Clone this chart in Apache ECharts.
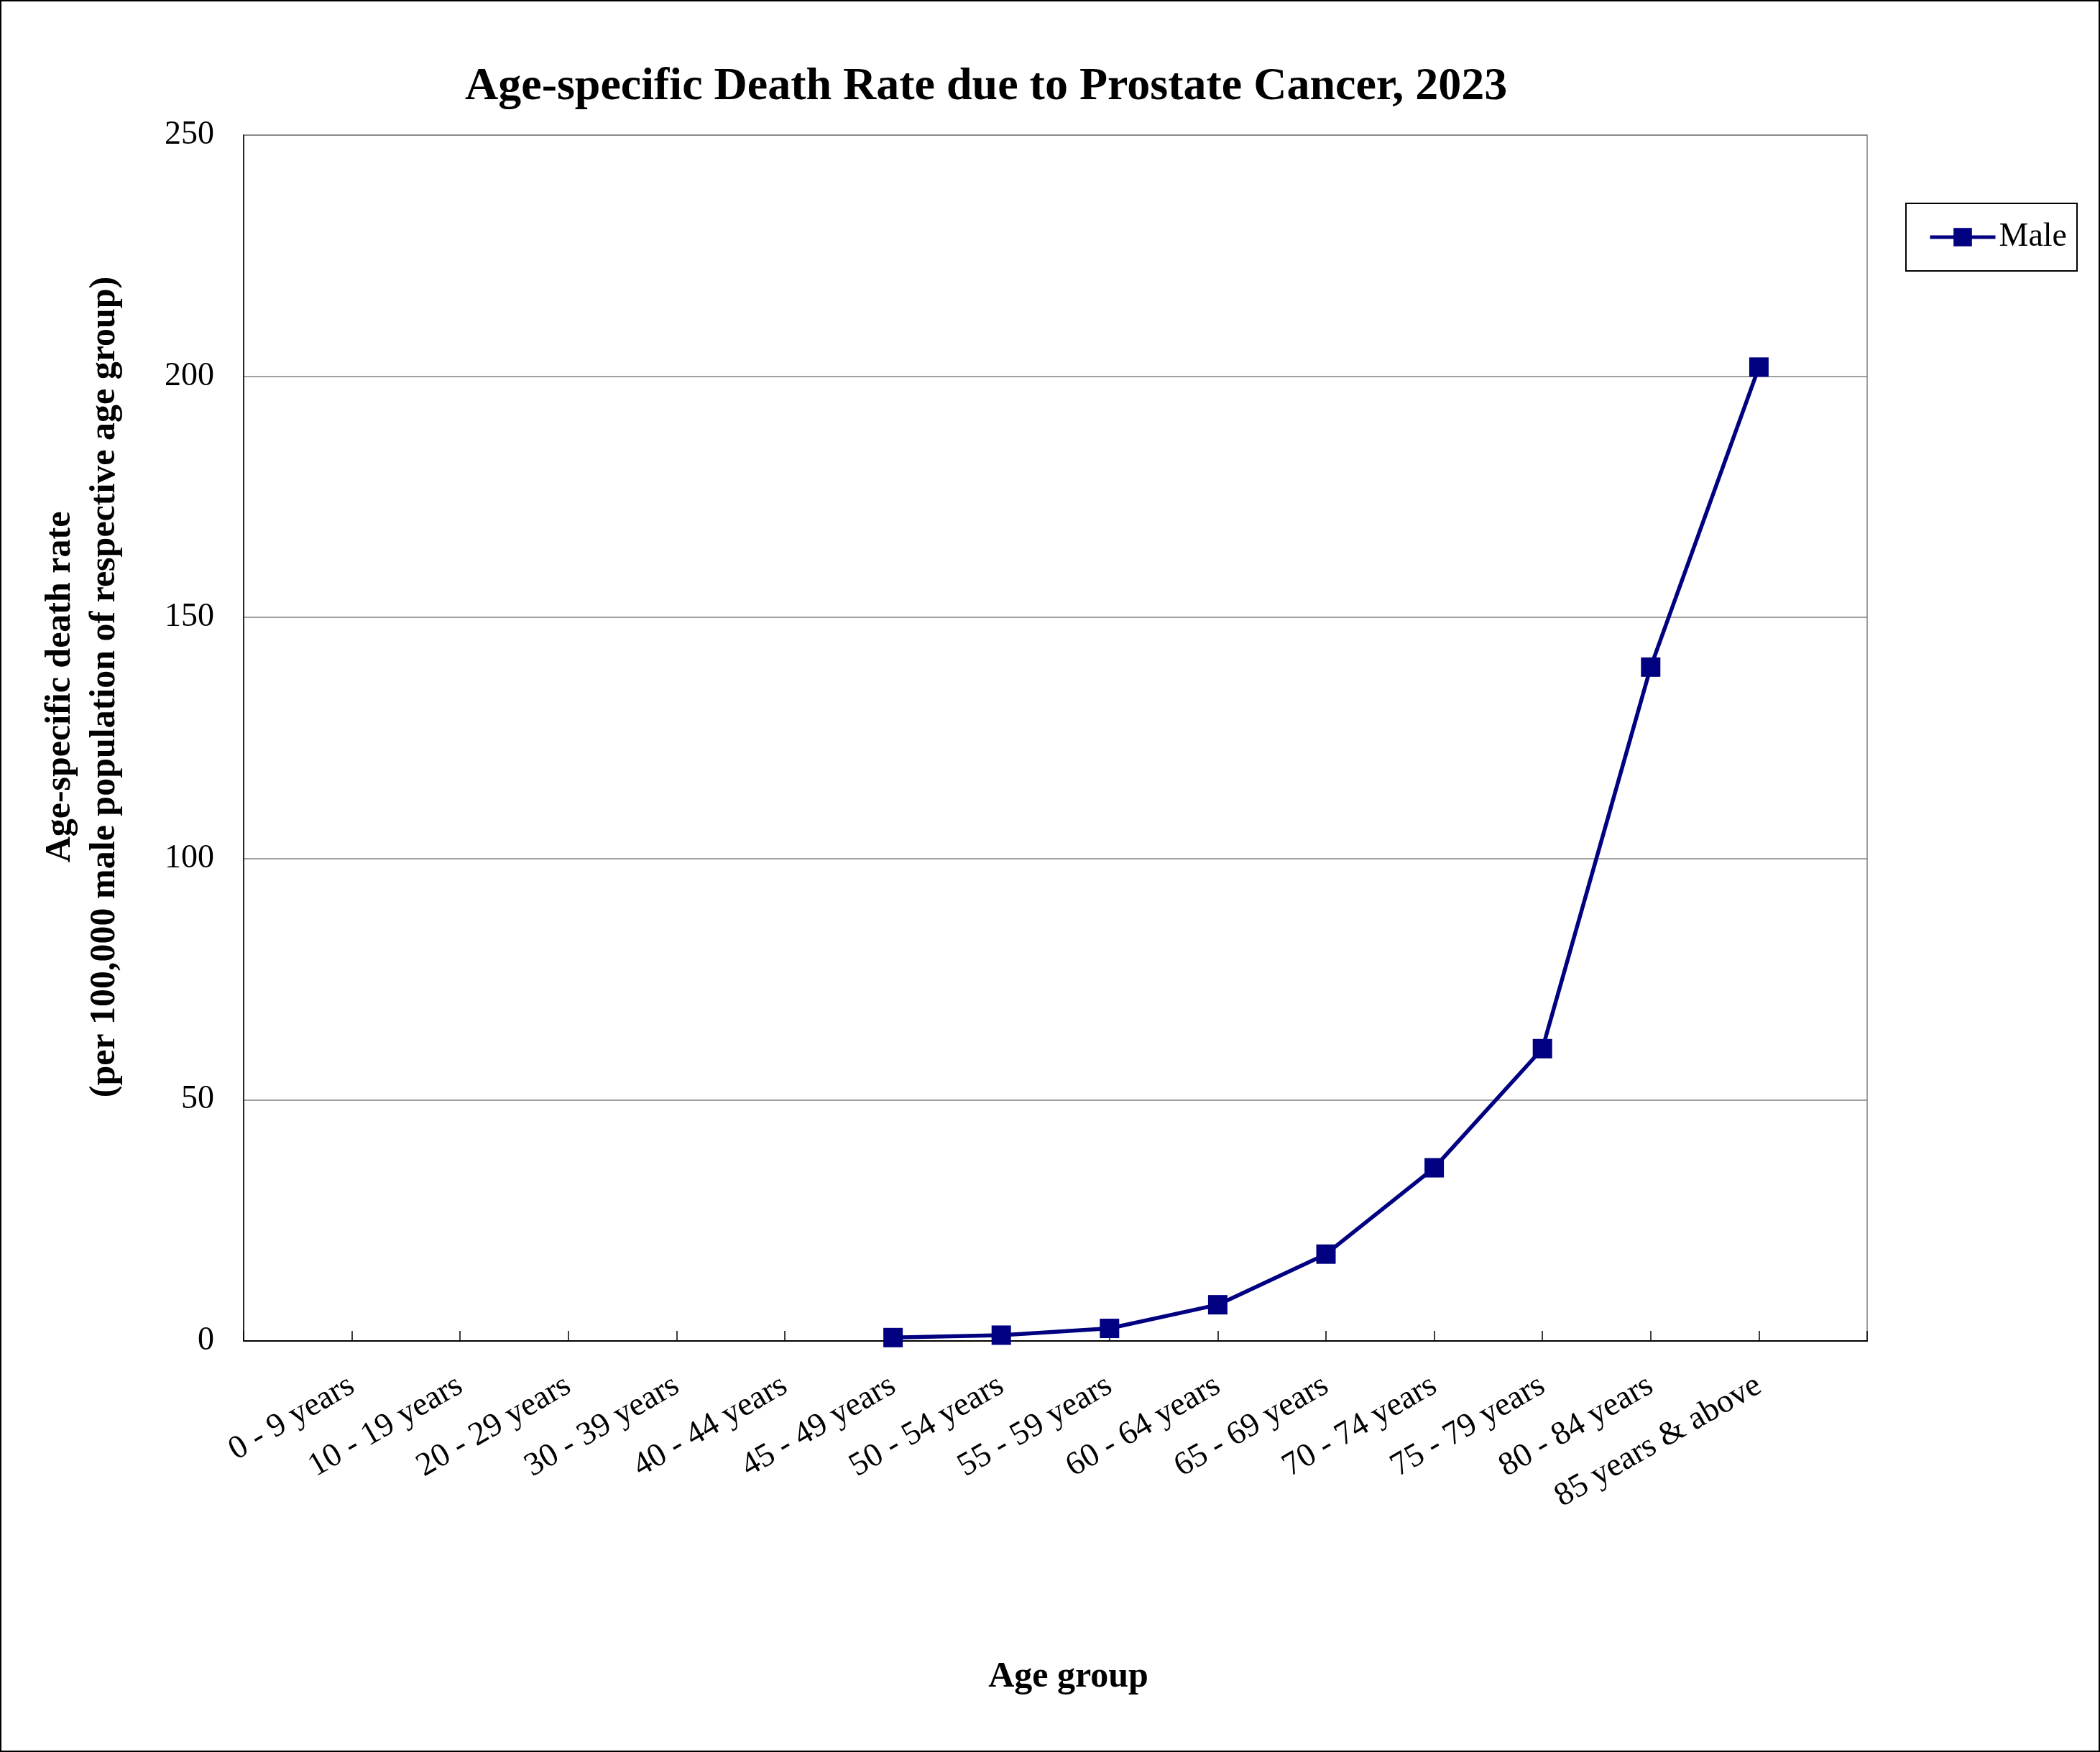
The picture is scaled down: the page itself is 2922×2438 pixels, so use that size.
<!DOCTYPE html>
<html>
<head>
    <meta charset="utf-8">
    <script type="text/javascript" src="https://cdn.jsdelivr.net/npm/echarts@6/dist/echarts.min.js"></script>
    <title>Age-specific Death Rate due to Prostate Cancer, 2023</title>
    <style>
        html, body { margin: 0; padding: 0; background: #fff; }
        #chart_box { width: 2922px; height: 2438px; }
    </style>
</head>
<body>
<div id="chart_box"></div>
</body>
</html>

<script type="text/javascript">
    // age groups on the x axis
    var ageGroups = ['0 - 9 years', '10 - 19 years', '20 - 29 years', '30 - 39 years',
        '40 - 44 years', '45 - 49 years', '50 - 54 years', '55 - 59 years',
        '60 - 64 years', '65 - 69 years', '70 - 74 years', '75 - 79 years',
        '80 - 84 years', '85 years & above'];
    // death rate per 100,000 males, no value for the young groups
    var maleRates = [null, null, null, null, null, 0.7, 1.2, 2.6, 7.5, 18.0, 35.9, 60.6, 139.7, 201.9];
    var yTicks = [0, 50, 100, 150, 200, 250];

    var serif = '"Times New Roman", "Liberation Serif", serif';

    // an empty slot at each end, so points sit on the ticks like the excel chart
    var xData = [''].concat(ageGroups, ['']);
    var yData = [null].concat(maleRates, [null]);

    var myChart = echarts.init(document.getElementById('chart_box'));
    var option = {
        backgroundColor: '#fff',
        animation: false,
        title: {
            text: 'Age-specific Death Rate due to Prostate Cancer, 2023',
            left: 647,
            top: 89,
            padding: 0,
            textStyle: {fontFamily: serif, fontSize: 64, fontWeight: 'bold', color: '#000'}
        },
        legend: {
            left: 2652,
            top: 283,
            orient: 'vertical',
            borderColor: '#000',
            borderWidth: 2,
            padding: [24, 14, 24, 31],
            itemWidth: 91,
            itemHeight: 32,
            lineStyle: {width: 5, color: '#000080'},
            textStyle: {fontFamily: serif, fontSize: 46, color: '#000'},
            data: ['Male']
        },
        grid: {
            left: 339,
            right: 324,
            top: 188,
            bottom: 572,
            show: true,
            borderColor: '#808080',
            borderWidth: 1.5
        },
        xAxis: {
            type: 'category',
            data: xData,
            boundaryGap: false,
            name: 'Age group',
            nameLocation: 'middle',
            nameGap: 443,
            nameTextStyle: {fontFamily: serif, fontSize: 50, fontWeight: 'bold', color: '#000', padding: [0, 0, 0, 36]},
            axisLine: {lineStyle: {color: '#000', width: 2}},
            axisTick: {inside: true, length: 14, interval: 0, lineStyle: {color: '#000', width: 1.5}},
            axisLabel: {interval: 0, rotate: 30, margin: 59, fontFamily: serif, fontSize: 46, color: '#000'},
            splitLine: {show: false}
        },
        yAxis: {
            type: 'value',
            min: yTicks[0],
            max: yTicks[yTicks.length - 1],
            interval: 50,
            name: 'Age-specific death rate\n(per 100,000 male population of respective age group)',
            nameLocation: 'middle',
            nameGap: 162,
            nameTextStyle: {fontFamily: serif, fontSize: 50, fontWeight: 'bold', color: '#000',
                lineHeight: 62, align: 'center', padding: [0, 0, 0, 142]},
            axisLine: {show: true, lineStyle: {color: '#000', width: 1.5}},
            axisTick: {show: false},
            axisLabel: {margin: 41, padding: [12, 0, 0, 0], fontFamily: serif, fontSize: 46, color: '#000'},
            splitLine: {show: true, lineStyle: {color: '#808080', width: 1.5}}
        },
        series: [{
            name: 'Male',
            type: 'line',
            data: yData,
            symbol: 'rect',
            symbolSize: 27,
            color: '#000080',
            lineStyle: {color: '#000080', width: 5.5},
            itemStyle: {color: '#000080'}
        }],
        graphic: [{
            type: 'rect',
            shape: {x: 1, y: 1, width: 2920, height: 2436},
            style: {fill: null, stroke: '#000', lineWidth: 2},
            silent: true
        }]
    };
    myChart.setOption(option);
</script>
